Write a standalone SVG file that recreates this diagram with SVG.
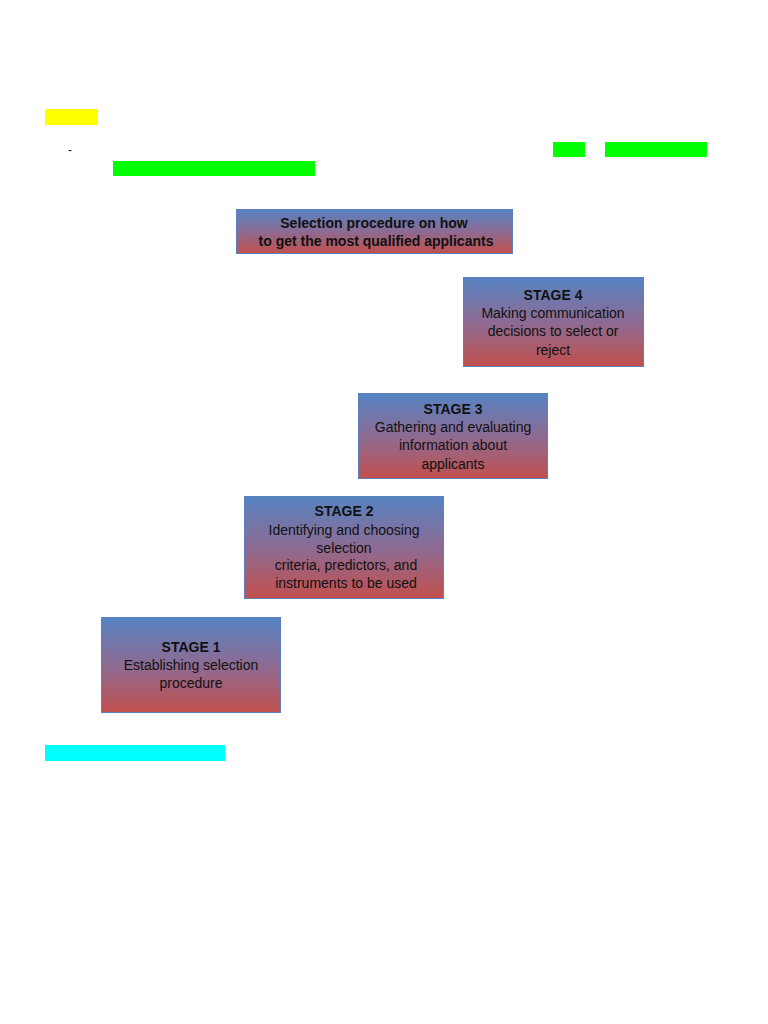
<svg xmlns="http://www.w3.org/2000/svg" width="768" height="1024" viewBox="0 0 768 1024">
<style>
.box{fill:url(#g);stroke:#5b7fbf;stroke-width:1}
text{font-family:"Liberation Sans",Arial,sans-serif;font-size:14px;fill:#111;text-anchor:middle}
.b{font-weight:bold}
</style>
<defs>
<linearGradient id="g" x1="0" y1="0" x2="0" y2="1">
<stop offset="0" stop-color="#5683c2"/>
<stop offset="0.5" stop-color="#8d6b93"/>
<stop offset="1" stop-color="#c2504d"/>
</linearGradient>
</defs>
<rect width="768" height="1024" fill="#fff"/>
<rect x="45" y="109" width="53" height="16" fill="#ffff00"/>
<rect x="553" y="142" width="32" height="15" fill="#00ff00"/>
<rect x="605" y="142" width="102" height="15" fill="#00ff00"/>
<rect x="113" y="161" width="202" height="15" fill="#00ff00"/>
<rect x="45" y="745" width="180" height="16" fill="#00ffff"/>
<text x="70" y="154" style="font-size:12px">-</text>
<g id="title">
<rect class="box" x="236.5" y="209.5" width="276" height="44"/>
<text class="b" x="374" y="228">Selection procedure on how</text>
<text class="b" x="376" y="246">to get the most qualified applicants</text>
</g>
<g id="stage4">
<rect class="box" x="463.5" y="277.5" width="180" height="89"/>
<text class="b" x="553" y="300">STAGE 4</text>
<text x="553" y="318">Making communication</text>
<text x="553" y="336">decisions to select or</text>
<text x="553" y="355">reject</text>
</g>
<g id="stage3">
<rect class="box" x="358.5" y="393.5" width="189" height="85"/>
<text class="b" x="453" y="414">STAGE 3</text>
<text x="453" y="432">Gathering and evaluating</text>
<text x="453" y="450">information about</text>
<text x="453" y="469">applicants</text>
</g>
<g id="stage2">
<rect class="box" x="244.5" y="496.5" width="199" height="102"/>
<text class="b" x="344" y="516">STAGE 2</text>
<text x="344" y="535">Identifying and choosing</text>
<text x="344" y="553">selection</text>
<text x="346" y="570">criteria, predictors, and</text>
<text x="346" y="588">instruments to be used</text>
</g>
<g id="stage1">
<rect class="box" x="101.5" y="617.5" width="179" height="95"/>
<text class="b" x="191" y="652">STAGE 1</text>
<text x="191" y="670">Establishing selection</text>
<text x="191" y="688">procedure</text>
</g>
<g id="connectors"></g>
</svg>
